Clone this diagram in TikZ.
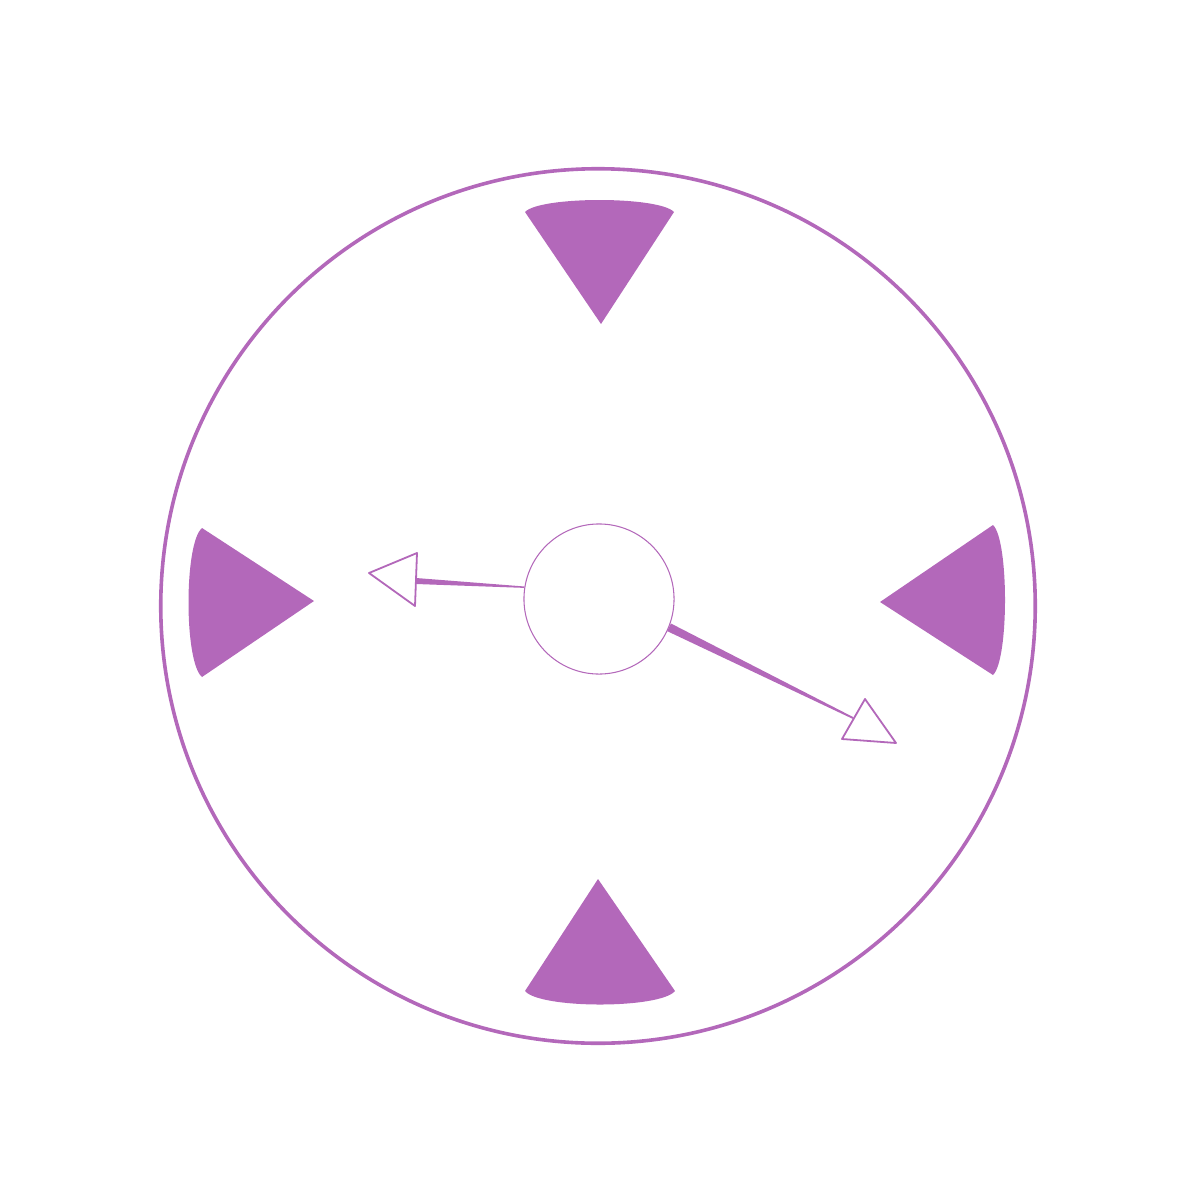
\documentclass[tikz,border=0pt]{standalone}
\usepackage{tikz}
\usetikzlibrary{calc}
\definecolor{orchid}{RGB}{179,104,186}

\begin{document}
\begin{tikzpicture}[x=0.01cm, y=-0.01cm,
		vane/.style={fill=orchid},
		head/.style={draw=orchid, fill=white, line width=0.018cm, line join=round}]
	\useasboundingbox (0,0) rectangle (1200,1200);
	\node[circle, draw=orchid, line width=0.036cm, inner sep=0, minimum size=8.74cm] (rim) at (598,606) {};
	\node[circle, draw=orchid, line width=0.3pt, inner sep=0, minimum size=1.5cm] (hub) at (599,599) {};

	% vanes
	\fill[vane] (525,212) .. controls (540,196) and (659,196) .. (674,212) -- (601,324) -- cycle;
	\fill[vane] (525,991) .. controls (540,1009) and (660,1009) .. (675,991) -- (598,879) -- cycle;
	\fill[vane] (202,528) .. controls (184,543) and (184,662) .. (202,677) -- (314,601) -- cycle;
	\fill[vane] (993,525) .. controls (1009,540) and (1009,660) .. (993,675) -- (880,602) -- cycle;

	% left pointer
	\coordinate (lbase) at (416,581);
	\coordinate (ltip) at (369,573);
	\fill[orchid] ($(hub.171)+(0,-0.7)$) -- ($(lbase)+(0,-3)$) -- ($(lbase)+(0,3)$) -- ($(hub.171)+(0,0.7)$) -- cycle;
	\draw[head] (417,553) -- (ltip) -- (415,606) -- cycle;

	% right pointer
	\coordinate (rbase) at (853,718);
	\coordinate (rtip) at (896,743);
	\fill[orchid] ($(hub.338)+(-1.9,3.8)$) -- ($(rbase)+(-0.4,0.8)$) -- ($(rbase)+(0.4,-0.8)$) -- ($(hub.338)+(1.9,-3.8)$) -- cycle;
	\draw[head] (865,699) -- (rtip) -- (842,739) -- cycle;
\end{tikzpicture}
\end{document}
